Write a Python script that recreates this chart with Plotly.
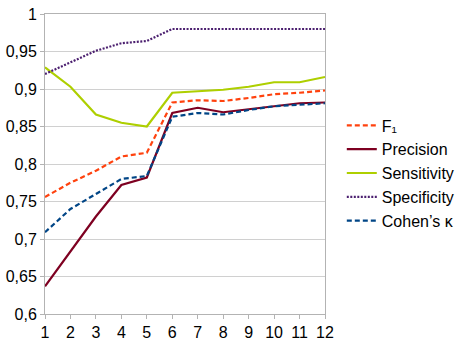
import plotly.graph_objects as go

# Number of features / step index on the x axis
steps = list(range(1, 13))

f1 = [0.756, 0.775, 0.791, 0.810, 0.815, 0.882, 0.885, 0.884, 0.888, 0.893, 0.895, 0.898]
precision = [0.637, 0.683, 0.730, 0.772, 0.782, 0.868, 0.875, 0.869, 0.873, 0.878, 0.881, 0.882]
sensitivity = [0.929, 0.903, 0.866, 0.855, 0.850, 0.895, 0.897, 0.899, 0.903, 0.909, 0.909, 0.916]
specificity = [0.920, 0.936, 0.951, 0.961, 0.964, 0.980, 0.980, 0.979, 0.979, 0.980, 0.980, 0.980]
kappa = [0.709, 0.740, 0.760, 0.780, 0.784, 0.863, 0.868, 0.866, 0.872, 0.877, 0.879, 0.881]

y_ticks = [0.6, 0.65, 0.7, 0.75, 0.8, 0.85, 0.9, 0.95, 1.0]
y_tick_text = ["0,6", "0,65", "0,7", "0,75", "0,8", "0,85", "0,9", "0,95", "1"]

series = [
    ("F\u2081", f1, "#ff420e", "5px,3px"),
    ("Precision", precision, "#7e0021", "solid"),
    ("Sensitivity", sensitivity, "#aecf00", "solid"),
    ("Specificity", specificity, "#4b1f6f", "2px,1.5px"),
    ("Cohen\u2019s \u03ba", kappa, "#004586", "5px,3px"),
]

fig = go.Figure()
for name, vals, color, dash in series:
    fig.add_trace(go.Scatter(
        x=steps, y=vals, name=name, mode="lines",
        line=dict(color=color, width=2.2, dash=dash),
    ))

font_family = "Liberation Sans, Arial, sans-serif"
fig.update_layout(
    width=474, height=347,
    margin=dict(l=40, r=149, t=6, b=22),
    paper_bgcolor="white", plot_bgcolor="white",
    font=dict(family=font_family, size=16, color="#000000"),
    showlegend=True,
    legend=dict(
        x=1.06, xanchor="left", y=0.47, yanchor="middle",
        font=dict(size=16, family=font_family),
        bgcolor="rgba(0,0,0,0)", tracegroupgap=0,
    ),
    xaxis=dict(
        range=[1, 12], tickvals=steps, showgrid=False,
        showline=True, linecolor="#b3b3b3", linewidth=1, mirror=True,
        ticks="outside", ticklen=4, tickcolor="#b3b3b3",
        zeroline=False, tickfont=dict(size=16), ticklabeloverflow="allow",
    ),
    yaxis=dict(
        range=[0.6, 1.0], tickvals=y_ticks, ticktext=y_tick_text,
        showgrid=True, gridcolor="#d0d0d0", gridwidth=1,
        showline=True, linecolor="#b3b3b3", linewidth=1, mirror=True,
        ticks="outside", ticklen=4, tickcolor="#b3b3b3",
        zeroline=False, tickfont=dict(size=16), ticklabeloverflow="allow",
    ),
)

fig.write_html("out.html")
